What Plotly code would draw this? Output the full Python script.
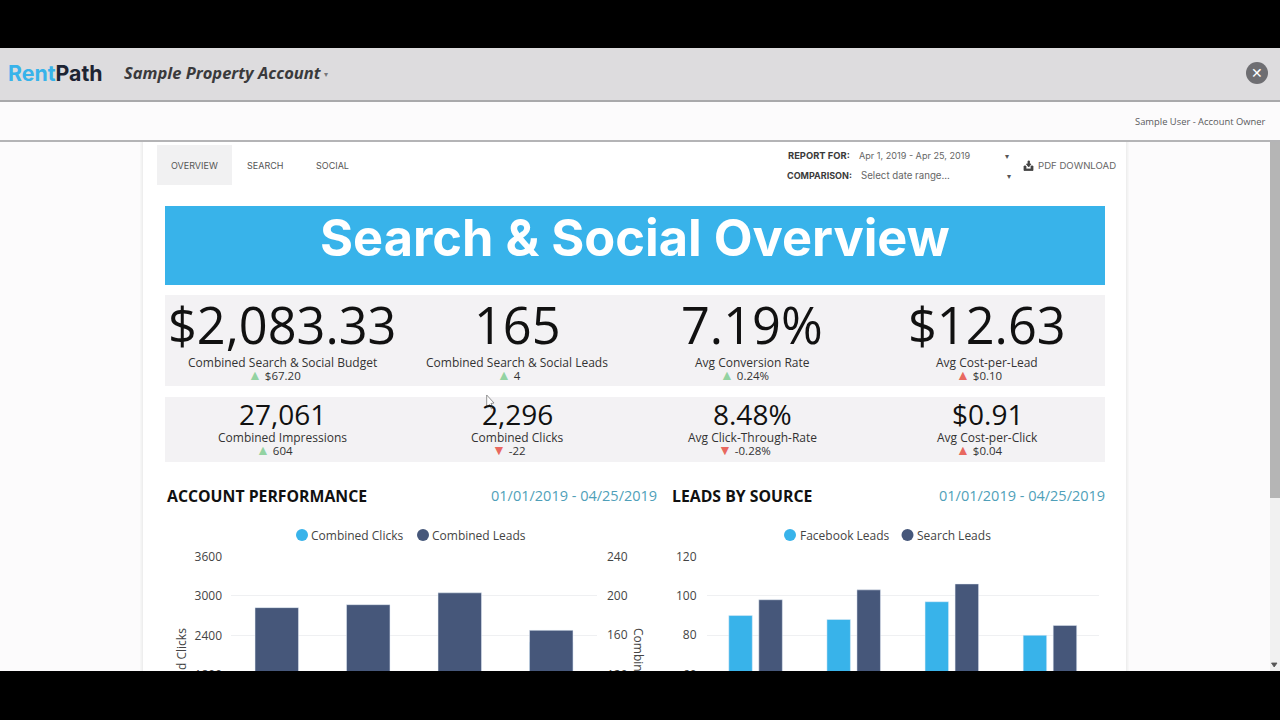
import plotly.graph_objects as go
from plotly.subplots import make_subplots

W, H = 1280, 720

months = ["Jan", "Feb", "Mar", "Apr"]
# only April clicks can be told (KPI tile); the other bars are hidden behind the leads bars
combined_clicks = [None, None, None, 2296]
combined_leads = [188, 191, 203, 165]
facebook_leads = [90, 88, 97, 80]
search_leads = [98, 103, 106, 85]

clicks_ticks = [1200, 1800, 2400, 3000, 3600]
leads_ticks = [80, 120, 160, 200, 240]
source_ticks = [40, 60, 80, 100, 120]

big_values = ["$2,083.33", "165", "7.19%", "$12.63"]
big_labels = ["Combined Search & Social Budget", "Combined Search & Social Leads",
              "Avg Conversion Rate", "Avg Cost-per-Lead"]
big_deltas = ["$67.20", "4", "0.24%", "$0.10"]
big_marks = ["▲", "▲", "▲", "▲"]
big_colors = ["#93d3a2", "#93d3a2", "#93d3a2", "#e8685f"]

small_values = ["27,061", "2,296", "8.48%", "$0.91"]
small_labels = ["Combined Impressions", "Combined Clicks", "Avg Click-Through-Rate", "Avg Cost-per-Click"]
small_deltas = ["604", "-22", "-0.28%", "$0.04"]
small_marks = ["▲", "▼", "▼", "▲"]
small_colors = ["#93d3a2", "#e8685f", "#e8685f", "#e8685f"]

tile_centers = [282, 517, 752, 987]

BLUE = "#38b3ea"
NAVY = "#46577a"
GRID = "#eff0f2"
TILE = "#f3f2f4"
TICK = "#444444"


def px(x):
    return x / W


def py(y):
    return 1 - y / H


shapes = []
notes = []


def rect(x0, y0, x1, y1, color, layer="below"):
    shapes.append(dict(type="rect", xref="paper", yref="paper", x0=px(x0), x1=px(x1), y0=py(y0), y1=py(y1),
                       fillcolor=color, line_width=0, layer=layer))


def circle(cx, cy, r, color):
    shapes.append(dict(type="circle", xref="paper", yref="paper", x0=px(cx - r), x1=px(cx + r),
                       y0=py(cy - r), y1=py(cy + r), fillcolor=color, line_width=0, layer="below"))


def poly(points, color, line=None):
    path = "M " + " L ".join(f"{px(a):.5f},{py(b):.5f}" for a, b in points) + " Z"
    shapes.append(dict(type="path", xref="paper", yref="paper", path=path, fillcolor=color,
                       line=dict(color=line or color, width=0.8), layer="above"))


def text(x, y, s, size, color="#222222", font="Open Sans", anchor="center", angle=0, yanchor="middle"):
    notes.append(dict(text=s, xref="paper", yref="paper", x=px(x), y=py(y), xanchor=anchor, yanchor=yanchor,
                      showarrow=False, textangle=angle, font=dict(family=font, size=size, color=color),
                      borderpad=0, borderwidth=0))


def delta(mark, color, value):
    return f'<span style="color:{color};font-size:14px">{mark}</span>&nbsp;{value}'


# page and header
rect(0, 0, W, H, "#fcfbfc")
for i, c in enumerate(["#f7f7f7", "#f3f3f3", "#eeeeee"]):
    rect(143 - 3 + i, 142, 1126 + 3 - i, 671, c)
rect(143, 142, 1126, 671, "#ffffff")
rect(0, 48, W, 100, "#dddcde")
rect(0, 100, W, 102, "#a9a9ab")
rect(0, 102, W, 140, "#fcfbfc")
rect(0, 140, W, 142, "#b4b4b6")
rect(157, 145, 232, 185, "#f1f1f2")
rect(165, 206, 1105, 285, BLUE)
rect(165, 295, 1105, 386, TILE)
rect(165, 397, 1105, 462, TILE)
rect(1270, 142, W, 671, "#f1f1f1")
rect(1270, 142, W, 498, "#b5b5b5")
circle(1257, 73, 11, "#6e6e72")

text(8, 73, '<b><span style="color:#38b3ea">Rent</span><span style="color:#1d2433">Path</span></b>',
     21.3, font="Inter", anchor="left")
text(124, 73, "<b><i>Sample Property Account</i></b>", 16.5, "#3a3a3c", font="Open Sans", anchor="left")
text(326, 74, "▾", 8, "#77777a")
text(1257, 73, "✕", 14, "#ffffff", font="DejaVu Sans")
text(1266, 121, "Sample User - Account Owner", 9.4, "#5a5a5c", anchor="right")

text(194, 165.5, "OVERVIEW", 9, "#555555", font="Inter")
text(265, 165.5, "SEARCH", 9, "#555555", font="Inter")
text(332, 165.5, "SOCIAL", 9, "#555555", font="Inter")
text(850, 155, "<b>REPORT FOR:</b>", 9.4, "#3a3a3a", font="Inter", anchor="right")
text(852, 175, "<b>COMPARISON:</b>", 9, "#3a3a3a", font="Inter", anchor="right")
text(859, 155, "Apr 1, 2019 - Apr 25, 2019", 9.1, "#666666", font="Inter", anchor="left")
text(861, 175, "Select date range...", 9.7, "#666666", font="Inter", anchor="left")
text(1007, 155, "▾", 8, "#555555")
text(1009, 175, "▾", 8, "#555555")
text(1038, 165.5, "PDF DOWNLOAD", 9.6, "#666666", font="Inter", anchor="left")
text(635, 238, "<b>Search &amp; Social Overview</b>", 50.5, "#ffffff", font="Inter")

for i, cx in enumerate(tile_centers):
    text(cx, 325, big_values[i], 50.5, "#111111")
    text(cx, 362, big_labels[i], 12, "#333333")
    text(cx - 8, 374.5, delta(big_marks[i], big_colors[i], big_deltas[i]), 11.5, "#333333")
    text(cx, 414.5, small_values[i], 28, "#111111")
    text(cx, 437.5, small_labels[i], 12, "#333333")
    text(cx - 8, 449.5, delta(small_marks[i], small_colors[i], small_deltas[i]), 11.5, "#333333")

text(167, 496, "<b>ACCOUNT PERFORMANCE</b>", 15.8, "#111111", anchor="left")
text(656.5, 495.5, "01/01/2019 - 04/25/2019", 14.5, "#4f9fb9", anchor="right")
text(672, 496, "<b>LEADS BY SOURCE</b>", 15.8, "#111111", anchor="left")
text(1105, 495.5, "01/01/2019 - 04/25/2019", 14.5, "#4f9fb9", anchor="right")

# legends
circle(302, 535, 6, BLUE)
text(311, 535, "Combined Clicks", 12, "#444444", anchor="left")
circle(423, 535, 6, NAVY)
text(432, 535, "Combined Leads", 12, "#444444", anchor="left")
circle(790, 535, 6, BLUE)
text(800, 535, "Facebook Leads", 12, "#444444", anchor="left")
circle(907.5, 535, 6, NAVY)
text(917, 535, "Search Leads", 12, "#444444", anchor="left")

# axis titles run off the bottom of the screen, only the visible letters are kept
text(181, 628, "d Clicks", 12, "#444444", angle=-90, yanchor="top")
text(639, 628, "Combin", 12, "#444444", angle=90, yanchor="top")

fig = make_subplots(rows=1, cols=2, specs=[[{"secondary_y": True}, {}]])

fig.add_trace(go.Bar(x=months, y=combined_clicks, name="Combined Clicks", marker_color=BLUE), row=1, col=1)
fig.add_trace(go.Bar(x=months, y=combined_leads, name="Combined Leads", marker_color=NAVY),
              row=1, col=1, secondary_y=True)
fig.add_trace(go.Bar(x=months, y=facebook_leads, name="Facebook Leads", marker_color=BLUE,
                     xaxis="x2", yaxis="y3"))
fig.add_trace(go.Bar(x=months, y=search_leads, name="Search Leads", marker_color=NAVY,
                     xaxis="x2", yaxis="y3"))

axis_font = dict(family="Open Sans", size=12, color=TICK)
top, bottom = py(556.3), 0
fig.update_layout(
    width=W, height=H, margin=dict(l=0, r=0, t=0, b=0, autoexpand=False),
    paper_bgcolor="#ffffff", plot_bgcolor="rgba(0,0,0,0)",
    showlegend=False, hovermode=False, bargap=0.388, bargroupgap=0.217,
    xaxis=dict(domain=[px(231), px(597)], showticklabels=False, showgrid=False, zeroline=False, showline=False),
    yaxis=dict(domain=[bottom, top], range=[1113.4, 3600], tickvals=clicks_ticks, tickfont=axis_font,
               gridcolor=GRID, gridwidth=1, zeroline=False, showline=False, ticks="", ticklabelstandoff=8),
    yaxis2=dict(range=[74.2, 240], tickvals=leads_ticks, tickfont=axis_font, showgrid=False,
                zeroline=False, showline=False, ticks="", ticklabelstandoff=9),
    xaxis2=dict(domain=[px(706.5), px(1099)], showticklabels=False, showgrid=False, zeroline=False, showline=False),
    yaxis3=dict(domain=[bottom, top], range=[37.1, 120], tickvals=source_ticks, tickfont=axis_font,
                gridcolor=GRID, gridwidth=1, zeroline=False, showline=False, ticks="", anchor="x2",
                ticklabelstandoff=9),
)
# the single bars of the left chart are wider than the grouped ones of the right chart
fig.update_traces(width=0.475, selector=dict(name="Combined Clicks"))
fig.update_traces(width=0.475, selector=dict(name="Combined Leads"))

# cursor, pdf icon, scrollbar arrow
poly([(486.7, 395), (486.7, 407), (489.5, 404.5), (491.5, 409), (493, 408), (491, 403.5), (494, 403)],
     "#ffffff", "#777777")
poly([(1024, 166), (1026, 166), (1026, 169), (1031, 169), (1031, 166), (1033, 166), (1033, 170.5), (1024, 170.5)],
     "#444444")
poly([(1028, 161), (1029.5, 161), (1029.5, 164), (1031, 164), (1028.7, 167), (1026.4, 164), (1028, 164)], "#444444")
poly([(1271.5, 663), (1277, 663), (1274.2, 667)], "#555555")

# video letterbox
rect(0, 0, W, 48, "#000000", layer="above")
rect(0, 671, W, H, "#000000", layer="above")

fig.update_layout(shapes=shapes, annotations=notes)
fig.write_html("out.html", config={"displayModeBar": False},
               post_script="document.body.style.margin='0';document.body.style.overflow='hidden';")
